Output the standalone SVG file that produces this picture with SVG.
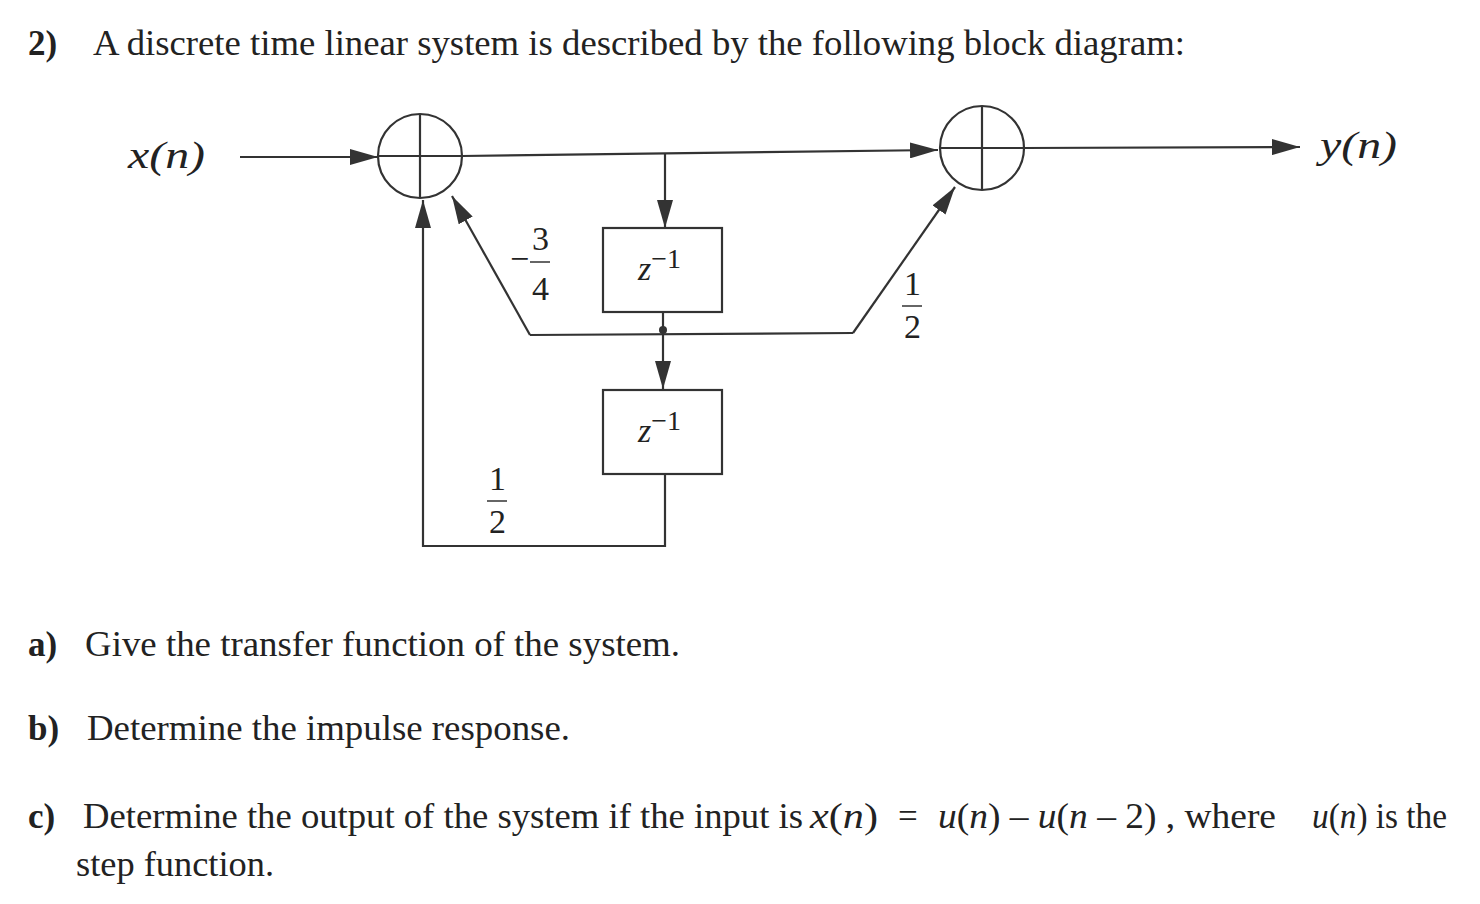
<svg xmlns="http://www.w3.org/2000/svg" width="1480" height="904" viewBox="0 0 1480 904">
<style>
text{font-family:"Liberation Serif",serif;fill:#222}
.t{font-size:35px}
.b{font-weight:bold}
.i{font-style:italic}
.m{font-size:34px}
.ln{stroke:#333;stroke-width:2.2;fill:none}
</style>
<defs>
<marker id="ar" viewBox="0 0 28 16" refX="28" refY="8" markerWidth="28" markerHeight="16" markerUnits="userSpaceOnUse" orient="auto"><path d="M0,0 L28,8 L0,16 Z" fill="#333"/></marker>
</defs>
<rect width="1480" height="904" fill="#fff"/>
<text class="t b" x="28" y="55">2)</text>
<text class="t" x="93" y="55" textLength="1092" lengthAdjust="spacingAndGlyphs">A discrete time linear system is described by the following block diagram:</text>
<g id="x_label"><text class="i" font-size="38" x="128" y="168" textLength="77" lengthAdjust="spacingAndGlyphs">x(n)</text></g>
<g id="y_label"><text class="i" font-size="38" x="1320" y="158" textLength="77" lengthAdjust="spacingAndGlyphs">y(n)</text></g>
<g id="sum1"><circle class="ln" cx="420" cy="156" r="42"/><path class="ln" d="M378,156 H462 M420,114 V198"/></g>
<g id="sum2"><circle class="ln" cx="982" cy="148" r="42"/><path class="ln" d="M940,148 H1024 M982,106 V190"/></g>
<g id="delay1"><rect class="ln" x="603" y="228" width="119" height="84"/><text class="m" x="638" y="280"><tspan class="i">z</tspan><tspan dy="-12" font-size="28">−1</tspan></text></g>
<g id="delay2"><rect class="ln" x="603" y="390" width="119" height="84"/><text class="m" x="638" y="442"><tspan class="i">z</tspan><tspan dy="-12" font-size="28">−1</tspan></text></g>
<g id="connectors">
<path class="ln" d="M240,157 H378" marker-end="url(#ar)"/>
<path class="ln" d="M462,156 L938,150" marker-end="url(#ar)"/>
<path class="ln" d="M1024,148 L1300,147" marker-end="url(#ar)"/>
<path class="ln" d="M665,154 V228" marker-end="url(#ar)"/>
<path class="ln" d="M663,312 V389" marker-end="url(#ar)"/>
<path class="ln" d="M530,335 L853,333"/>
<path class="ln" d="M530,335 L452,196" marker-end="url(#ar)"/>
<path class="ln" d="M853,333 L955,187" marker-end="url(#ar)"/>
<path class="ln" d="M665,474 V546 H423 V200" marker-end="url(#ar)"/>
<circle cx="663" cy="330" r="4" fill="#333"/>
</g>
<g id="gain_m34"><text class="m" x="510" y="270">−</text><text class="m" x="532" y="250">3</text><line x1="530" y1="262" x2="550" y2="262" stroke="#333" stroke-width="1.5"/><text class="m" x="532" y="300">4</text></g>
<g id="gain_half1"><text class="m" x="904" y="295">1</text><line x1="902" y1="306" x2="922" y2="306" stroke="#333" stroke-width="1.5"/><text class="m" x="904" y="338">2</text></g>
<g id="gain_half2"><text class="m" x="489" y="490">1</text><line x1="487" y1="501" x2="507" y2="501" stroke="#333" stroke-width="1.5"/><text class="m" x="489" y="533">2</text></g>
<text class="t b" x="28" y="656">a)</text>
<text class="t" x="85" y="656" textLength="595" lengthAdjust="spacingAndGlyphs">Give the transfer function of the system.</text>
<text class="t b" x="28" y="740">b)</text>
<text class="t" x="87" y="740" textLength="483" lengthAdjust="spacingAndGlyphs">Determine the impulse response.</text>
<text class="t b" x="28" y="828">c)</text>
<text class="t" x="83" y="828" textLength="720" lengthAdjust="spacingAndGlyphs">Determine the output of the system if the input is</text>
<text class="t" x="810" y="828" textLength="68" lengthAdjust="spacingAndGlyphs"><tspan class="i">x</tspan>(<tspan class="i">n</tspan>)</text>
<text class="t" x="898" y="828">=</text>
<text class="t" x="938" y="828" textLength="338" lengthAdjust="spacingAndGlyphs"><tspan class="i">u</tspan>(<tspan class="i">n</tspan>) – <tspan class="i">u</tspan>(<tspan class="i">n</tspan> – 2) , where</text>
<text class="t" x="1312" y="828" textLength="135" lengthAdjust="spacingAndGlyphs"><tspan class="i">u</tspan>(<tspan class="i">n</tspan>)  is the</text>
<text class="t" x="76" y="876" textLength="198" lengthAdjust="spacingAndGlyphs">step function.</text>
</svg>
